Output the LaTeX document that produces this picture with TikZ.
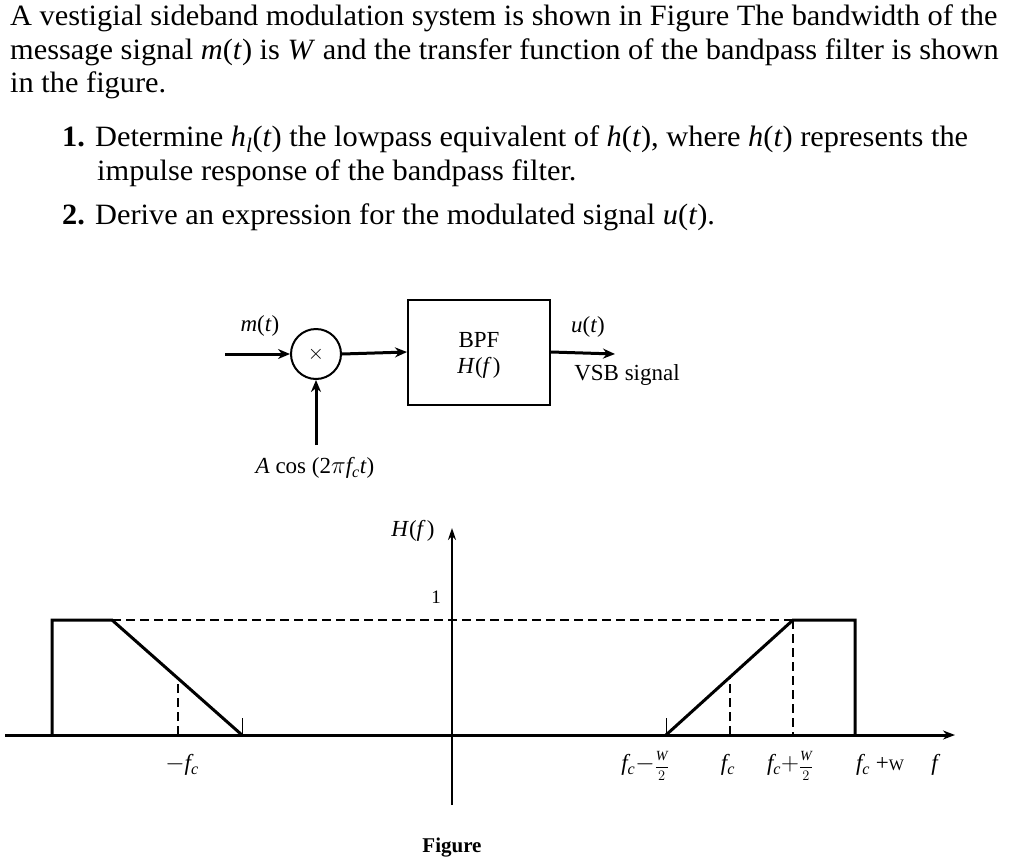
\documentclass[tikz,border=0pt]{standalone}
\usepackage{fontspec}
\setmainfont{Liberation Serif}
\usetikzlibrary{arrows.meta}
\newcommand{\tl}[1]{\scalebox{1.03}[1]{#1}}
\newcommand{\mi}[1]{\textit{#1}}
\newcommand{\fr}[1]{{\fontsize{14}{14}\selectfont$\displaystyle\frac{\mathit{#1}}{2}$}}
\begin{document}
\begin{tikzpicture}[x=1pt,y=-1pt,
  txt/.style={inner sep=0pt,anchor=west,font=\fontsize{29.5}{32}\selectfont},
  lbl/.style={inner sep=0pt,font=\fontsize{23}{25}\selectfont},
  thick2/.style={line width=3pt},
  arr/.style={line width=3pt,-{Stealth[length=12pt,width=10pt]}},
  dsh/.style={line width=1.2pt,dash pattern=on 9pt off 5pt}]
\useasboundingbox (0,0) rectangle (1020,865);
\node[txt] (t1) at (10,18) {\tl{A vestigial sideband modulation system is shown in Figure The bandwidth of the}};
\node[txt] (t2) at (10,52) {\tl{message signal \mi{m}(\mi{t}) is \mi{W} and the transfer function of the bandpass filter is shown}};
\node[txt] (t3) at (10,85) {\tl{in the figure.}};
\node[txt] (i1) at (62,139) {\tl{\textbf{1.} Determine \mi{h\textsubscript{l}}(\mi{t}) the lowpass equivalent of \mi{h}(\mi{t}), where \mi{h}(\mi{t}) represents the}};
\node[txt] (i1b) at (97,173) {\tl{impulse response of the bandpass filter.}};
\node[txt] (i2) at (62,217) {\tl{\textbf{2.} Derive an expression for the modulated signal \mi{u}(\mi{t}).}};
% block diagram
\coordinate (in) at (225,354);
\node[draw,circle,line width=2pt,minimum size=50pt,inner sep=0pt] (mul) at (316,354) {\fontsize{22}{22}\selectfont$\times$};
\node[draw,line width=2pt,minimum width=142pt,minimum height=105pt,inner sep=0pt] (bpf) at (479,352) {};
\node[lbl] (b1) at (479,340) {BPF};
\node[lbl] (b2) at (479,368) {\mi{H}(\mi{f\,})};
\coordinate (out) at (615,354);
\coordinate (lo) at (316,445);
\draw[arr] (in) -- (mul.west);
\draw[arr] (mul.east) -- (bpf.west);
\draw[arr] (bpf.east) -- (out);
\draw[arr] (lo) -- (mul.south);
\node[lbl] (mt) at (260,326) {\mi{m}(\mi{t})};
\node[lbl] (ut) at (588,327) {\mi{u}(\mi{t})};
\node[lbl] (vsb) at (627,375) {VSB signal};
\node[lbl] (ac) at (315,468) {\mi{A} cos (2$\pi$\mi{f\textsubscript{c}t})};
% graph
\coordinate (xa) at (5,735); \coordinate (xb) at (955,735);
\coordinate (ya) at (452,805); \coordinate (yb) at (452,528);
\draw[thick2,-{Stealth[length=12pt,width=9pt]}] (xa) -- (xb);
\draw[line width=2.5pt,-{Stealth[length=12pt,width=8pt]}] (ya) -- (yb);
\draw[thick2] (52,735) -- (52,620) -- (112,620) -- (242,735);
\draw[thick2] (666,735) -- (793,620) -- (855,620) -- (855,735);
\draw[dsh] (112,620) -- (793,620);
\draw[dsh] (178,735) -- (178,677);
\draw[dsh] (730,735) -- (730,677);
\draw[dsh] (793,620) -- (793,735);
\draw[line width=1pt] (242,735) -- (242,718);
\draw[line width=1pt] (666,735) -- (666,718);
\node[lbl] (hf) at (413,531) {\mi{H}(\mi{f\,})};
\node[lbl,font=\fontsize{19}{20}\selectfont] (one) at (436,597) {1};
\node[lbl] (l1) at (182,765) {$-$\mi{f\textsubscript{c}}};
\node[lbl] (l2) at (645,766) {\mi{f\textsubscript{c}}$-$\fr{W}};
\node[lbl] (l3) at (728,765) {\mi{f\textsubscript{c}}};
\node[lbl] (l4) at (790,766) {\mi{f\textsubscript{c}}$+$\fr{W}};
\node[lbl] (l5) at (880,765) {\mi{f\textsubscript{c}} +{\fontsize{16}{16}\selectfont W}};
\node[lbl] (l6) at (936,765) {\mi{f}};
\node[lbl,font=\fontsize{21}{22}\selectfont\bfseries] (fig) at (452,848) {Figure};
\end{tikzpicture}
\end{document}
